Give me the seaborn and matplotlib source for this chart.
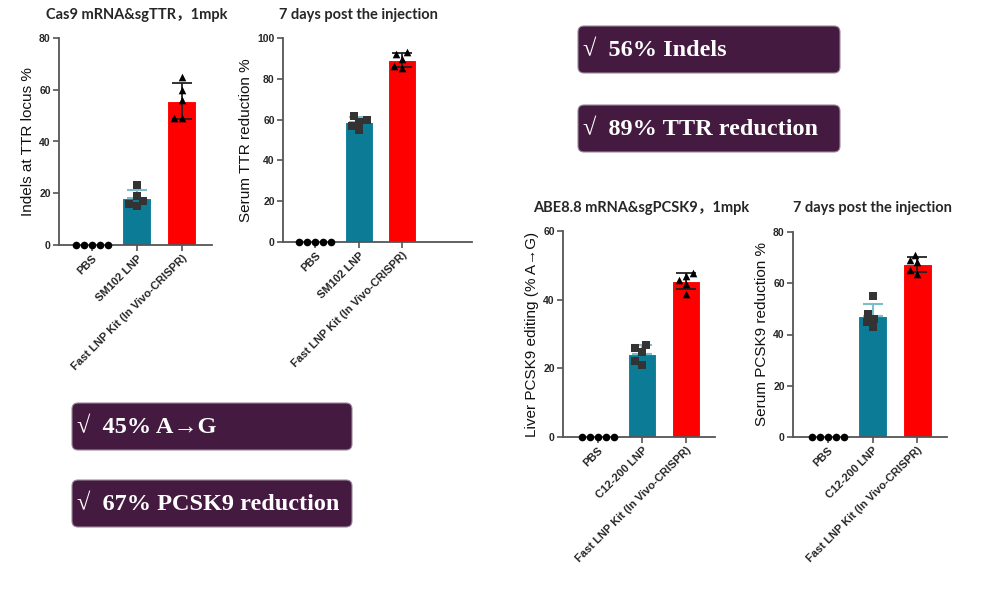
import numpy as np
import pandas as pd
import seaborn as sns
import matplotlib.pyplot as plt
from matplotlib.patches import FancyBboxPatch

# ---- data ----
groups_ttr = ["PBS", "SM102 LNP", "Fast LNP Kit (In Vivo-CRISPR)"]
groups_pcsk9 = ["PBS", "C12-200 LNP", "Fast LNP Kit (In Vivo-CRISPR)"]

indels_pbs = [0, 0, 0, 0, 0]
indels_sm102 = [15, 23, 17, 19, 16]
indels_fast = [49, 65, 60, 56, 49]

ttr_pbs = [0, 0, 0, 0, 0]
ttr_sm102 = [62, 55, 59, 60, 57]
ttr_fast = [93, 85.3, 89.9, 92.2, 86.1]

ag_pbs = [0, 0, 0, 0, 0]
ag_c12 = [26, 20.9, 26.8, 24.8, 22]
ag_fast = [47.9, 46.9, 45.7, 44.6, 41.7]

pcsk9_pbs = [0, 0, 0, 0, 0]
pcsk9_c12 = [55, 48, 46.2, 42.9, 44.9]
pcsk9_fast = [71, 63.8, 68.1, 69, 65]

box_texts = ["√  56% Indels", "√  89% TTR reduction",
             "√  45% A→G", "√  67% PCSK9 reduction"]

TEAL = "#0b7b96"
RED = "#ff0000"
PURPLE = "#441a40"

sns.set_style("white")
plt.rcParams['font.family'] = ['Liberation Sans', 'Noto Sans CJK SC', 'DejaVu Sans']

W, H = 993, 599
fig = plt.figure(figsize=(W / 100, H / 100), dpi=100)


def make_axes(left, right, top, bottom):
    return fig.add_axes([left / W, 1 - bottom / H, (right - left) / W, (bottom - top) / H])


def panel(ax, groups, vals, ymax, ystep, ylabel, xlim):
    df = pd.DataFrame({
        "group": np.repeat(groups, [len(v) for v in vals]),
        "value": np.concatenate(vals),
    })
    sns.barplot(data=df, x="group", y="value", order=groups, hue="group",
                palette=["white", TEAL, RED], saturation=1, errorbar=None, width=0.65,
                linewidth=0.8, edgecolor=["white", "#3f9ab0", "#ff7a7a"],
                legend=False, ax=ax)
    # error bars (SD)
    for i, v in enumerate(vals[1:], start=1):
        m, sd = np.mean(v), np.std(v, ddof=1)
        if i == 1:
            ax.errorbar(i, m, yerr=[[0], [sd]], color="#7dbccb", capsize=7,
                        elinewidth=1.5, capthick=1.5, zorder=3)
        else:
            ax.errorbar(i, m, yerr=sd, color="#222222", capsize=7,
                        elinewidth=1.3, capthick=1.3, zorder=3)
    markers = ["o", "s", "^"]
    colors = ["black", "#333333", "black"]
    for g, mk, c in zip(groups, markers, colors):
        sns.swarmplot(data=df[df.group == g], x="group", y="value", order=groups,
                      marker=mk, color=c, size=5.5, ax=ax, zorder=4, clip_on=False)
    ax.set_ylim(0, ymax)
    ax.set_yticks(np.arange(0, ymax + 1, ystep))
    ax.set_xlim(*xlim)
    ax.set_xlabel("")
    ax.set_ylabel(ylabel, fontsize=11, labelpad=3, color="#111111")
    sns.despine(ax=ax)
    for s in ["left", "bottom"]:
        ax.spines[s].set_color("#555555")
        ax.spines[s].set_linewidth(1.3)
    ax.tick_params(axis="both", direction="out", length=4, width=1.2,
                   color="#555555", labelsize=7.5, pad=2)
    ax.tick_params(axis="y", left=True)
    ax.tick_params(axis="x", bottom=True)
    for lab in ax.get_yticklabels():
        lab.set_fontweight("bold")
    ax.set_xticks(range(3))
    ax.set_xticklabels(groups, rotation=45, ha="right", rotation_mode="anchor",
                       fontsize=8, fontweight="bold")


ax1 = make_axes(59, 212, 38, 245)
panel(ax1, groups_ttr, [indels_pbs, indels_sm102, indels_fast], 80, 20,
      "Indels at TTR locus %", (-0.73, 2.67))

ax2 = make_axes(283, 472, 38, 242)
panel(ax2, groups_ttr, [ttr_pbs, ttr_sm102, ttr_fast], 100, 20,
      "Serum TTR reduction %", (-0.74, 3.6))

ax3 = make_axes(563, 715, 231, 437)
panel(ax3, groups_pcsk9, [ag_pbs, ag_c12, ag_fast], 60, 20,
      "Liver PCSK9 editing (% A→G)", (-0.8, 2.66))

ax4 = make_axes(793, 947, 232, 437)
panel(ax4, groups_pcsk9, [pcsk9_pbs, pcsk9_c12, pcsk9_fast], 80, 20,
      "Serum PCSK9 reduction %", (-0.79, 2.67))

# overlay in pixel coordinates for titles and callout boxes
ov = fig.add_axes([0, 0, 1, 1], zorder=-1)
ov.set_xlim(0, W)
ov.set_ylim(H, 0)
ov.axis("off")

title_font = ['Lato', 'Noto Sans CJK SC', 'DejaVu Sans']
ov.text(137, 15, "Cas9 mRNA&sgTTR，1mpk", ha="center", va="center",
        fontsize=10.5, fontweight="bold", family=title_font)
ov.text(358, 15, "7 days post the injection", ha="center", va="center",
        fontsize=10.5, fontweight="bold", family=title_font)
ov.text(641, 208, "ABE8.8 mRNA&sgPCSK9，1mpk", ha="center", va="center",
        fontsize=10.5, fontweight="bold", family=title_font)
ov.text(872, 208, "7 days post the injection", ha="center", va="center",
        fontsize=10.5, fontweight="bold", family=title_font)

boxes = [(578, 26, 262, 47), (578, 105, 262, 47), (72, 403, 280, 47), (72, 480, 280, 47)]
for (x, y, w, h), txt in zip(boxes, box_texts):
    ov.add_patch(FancyBboxPatch((x, y), w, h, boxstyle="round,pad=0,rounding_size=6",
                                facecolor=PURPLE, edgecolor="#9c8a99", linewidth=0.8))
    ov.text(x + 5, y + h / 2 + 1, txt, ha="left", va="center", color="white",
            fontsize=17.5, fontweight="bold",
            family=['Liberation Serif', 'DejaVu Serif'])

fig.savefig("out.png", dpi=100)
